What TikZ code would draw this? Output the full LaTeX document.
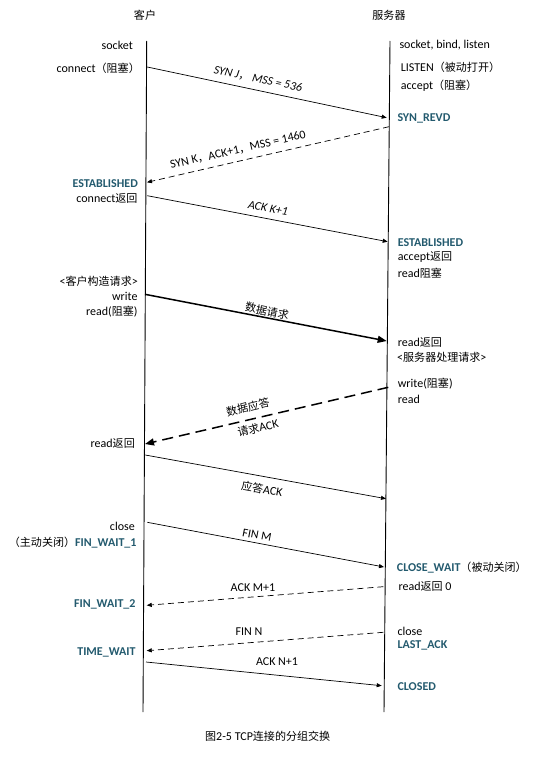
\documentclass[tikz,border=0pt]{standalone}
\usepackage{fontspec}
\setmainfont{Carlito}
\newfontfamily\cjk[Scale=0.92]{Noto Sans CJK SC}
\usetikzlibrary{arrows.meta}
\definecolor{stc}{RGB}{35,90,110}
\tikzset{
  txt/.style={inner sep=0pt, font=\fontsize{12}{14}\selectfont},
  lft/.style={txt, anchor=east},
  rgt/.style={txt, anchor=west},
  st/.style={text=stc, font=\fontsize{12}{14}\selectfont\bfseries},
  mlab/.style={txt},
  life/.style={line width=0.9pt},
  msg/.style={-{Triangle[length=5pt,width=4pt]}, line width=0.7pt},
  dmsg/.style={msg, dash pattern=on 6pt off 4pt},
  bmsg/.style={-{Triangle[length=9pt,width=7pt]}, line width=1.5pt},
  bdmsg/.style={bmsg, dash pattern=on 11pt off 6pt},
}
\begin{document}
\begin{tikzpicture}[x=1pt,y=-1pt]
\useasboundingbox (0,0) rectangle (537,757);
% headers
\node[txt] (hc) at (145,15) {\cjk 客户};
\node[txt] (hs) at (389,15) {\cjk 服务器};
% lifelines
\coordinate (ctop) at (146.7,41);
\coordinate (cbot) at (143,712);
\coordinate (stop) at (390,41);
\coordinate (sbot) at (384,712);
\draw[life] (ctop) -- (cbot);
\draw[life] (stop) -- (sbot);
% message end points
\coordinate (a1) at (147.3,67);   \coordinate (b1) at (386.7,117.7);
\coordinate (a2) at (389,126.7);  \coordinate (b2) at (147,182.3);
\coordinate (a3) at (147.3,195.7);\coordinate (b3) at (387.7,241.7);
\coordinate (a4) at (145,294.3);  \coordinate (b4) at (386.7,341);
\coordinate (a5) at (388.3,387.3);\coordinate (b5) at (145,444);
\coordinate (a6) at (145.3,455);  \coordinate (b6) at (386,498.7);
\coordinate (a7) at (147.3,522.3);\coordinate (b7) at (384,567);
\coordinate (a8) at (383.3,586.7);\coordinate (b8) at (146.7,605.3);
\coordinate (a9) at (383.3,632.3);\coordinate (b9) at (146.7,650.7);
\coordinate (a10) at (146,662);   \coordinate (b10) at (381.7,685.7);
\draw[msg] (a1) -- (b1);
\draw[dmsg] (a2) -- (b2);
\draw[msg] (a3) -- (b3);
\draw[bmsg] (a4) -- (b4);
\draw[bdmsg] (a5) -- (b5);
\draw[msg] (a6) -- (b6);
\draw[msg] (a7) -- (b7);
\draw[dmsg] (a8) -- (b8);
\draw[dmsg] (a9) -- (b9);
\draw[msg] (a10) -- (b10);
% message labels
\node[mlab, rotate=-12.0] (l1) at (258,79) {\itshape SYN J{\cjk，} MSS = 536};
\node[mlab, rotate=12.9] (l2) at (238,150) {SYN K{\cjk，}ACK+1{\cjk，}MSS = 1460};
\node[mlab, rotate=-10.8] (l3) at (268,208) {\itshape ACK K+1};
\node[mlab, rotate=-10.9] (l4) at (267,311) {\cjk 数据请求};
\node[mlab, rotate=13.1] (l5a) at (248,407) {\cjk 数据应答};
\node[mlab, rotate=13.1] (l5b) at (258,428) {{\cjk 请求}ACK};
\node[mlab, rotate=-10.3] (l6) at (262,489) {{\cjk 应答}ACK};
\node[mlab, rotate=-10.7] (l7) at (257,535) {FIN M};
\node[mlab] (l8) at (253,588) {ACK M+1};
\node[mlab] (l9) at (249,632) {FIN N};
\node[mlab] (l10) at (277,662) {ACK N+1};
% client side
\node[lft] (c1) at (133,45) {socket};
\node[lft] (c2) at (140,68) {connect{\cjk（阻塞）}};
\node[lft, st] (c3) at (138,184) {ESTABLISHED};
\node[lft] (c4) at (137.7,198) {connect{\cjk 返回}};
\node[lft] (c5) at (138,281) {<{\cjk 客户构造请求}>};
\node[lft] (c6) at (137.7,296) {write};
\node[lft] (c7) at (137.7,312) {read({\cjk 阻塞})};
\node[lft] (c8) at (135,443) {read{\cjk 返回}};
\node[lft] (c9) at (135,526) {close};
\node[lft] (c10) at (136.7,543) {{\cjk（主动关闭）}\textcolor{stc}{\bfseries FIN\_WAIT\_1}};
\node[lft, st] (c11) at (135.7,604) {FIN\_WAIT\_2};
\node[lft, st] (c12) at (135.7,652) {TIME\_WAIT};
% server side
\node[rgt] (s1) at (399.3,45) {socket, bind, listen};
\node[rgt] (s2) at (400.7,67) {LISTEN{\cjk（被动打开）}};
\node[rgt] (s3) at (400.7,86) {accept{\cjk（阻塞）}};
\node[rgt, st] (s4) at (397.3,118) {SYN\_REVD};
\node[rgt, st] (s5) at (397.7,243) {ESTABLISHED};
\node[rgt] (s6) at (397.7,257) {accept{\cjk 返回}};
\node[rgt] (s7) at (397.7,273) {read{\cjk 阻塞}};
\node[rgt] (s8) at (397.7,342) {read{\cjk 返回}};
\node[rgt] (s9) at (397,357) {<{\cjk 服务器处理请求}>};
\node[rgt] (s10) at (397.7,384) {write({\cjk 阻塞})};
\node[rgt] (s11) at (397.7,399) {read};
\node[rgt] (s12) at (396.7,567.3) {\textcolor{stc}{\bfseries CLOSE\_WAIT}{\cjk（被动关闭）}};
\node[rgt] (s13) at (398.3,586) {read{\cjk 返回} 0};
\node[rgt] (s14) at (397.3,631) {close};
\node[rgt, st] (s15) at (397.3,645) {LAST\_ACK};
\node[rgt, st] (s16) at (397.3,687) {CLOSED};
% caption
\node[txt] (cap) at (267.7,736.7) {{\cjk 图}2-5 TCP{\cjk 连接的分组交换}};
\end{tikzpicture}
\end{document}
